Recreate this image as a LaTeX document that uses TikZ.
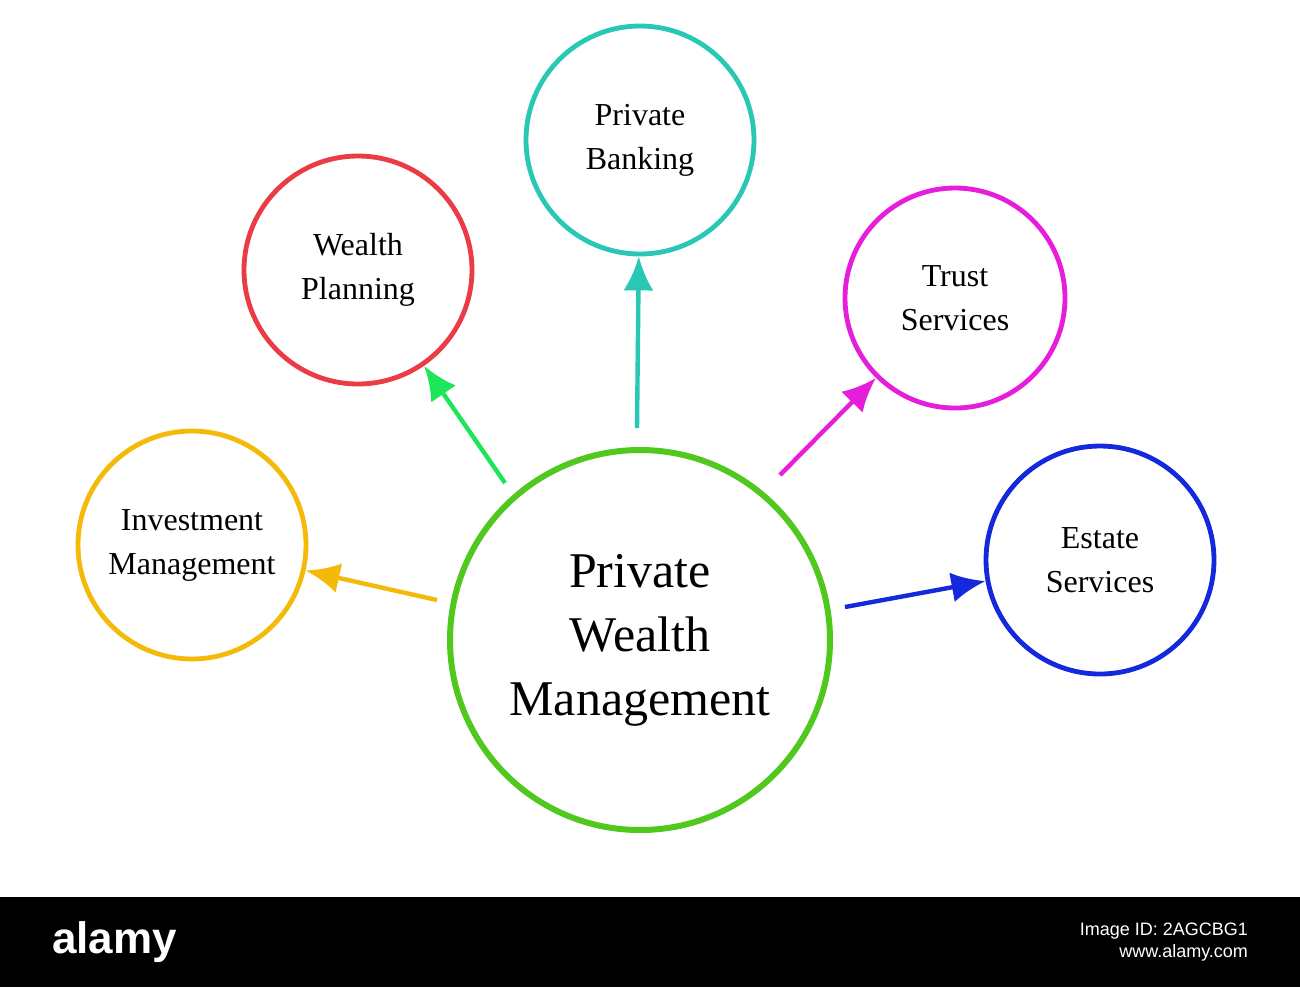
\documentclass[tikz,border=0pt]{standalone}
\usepackage{fontspec}
\setmainfont{Liberation Serif}
\newfontfamily\sansf{Liberation Sans}
\usetikzlibrary{arrows.meta}
\definecolor{cgreen}{RGB}{80,200,30}
\definecolor{cyel}{RGB}{245,185,10}
\definecolor{cred}{RGB}{235,60,70}
\definecolor{cteal}{RGB}{40,200,180}
\definecolor{cmag}{RGB}{230,30,220}
\definecolor{cblue}{RGB}{20,40,220}
\definecolor{carrg}{RGB}{30,230,90}
\tikzset{ring/.style={circle,line width=2.4pt,draw,align=center,font=\fontsize{16}{22}\selectfont},
arr/.style={line width=2.2pt,-{Latex[length=17pt,width=15pt]}}}
\begin{document}
\begin{tikzpicture}[x=0.5pt,y=-0.5pt]
\fill[white] (0,0) rectangle (1300,987);
\node[ring,draw=cgreen,line width=3pt,minimum size=190pt,font=\fontsize{25}{32}\selectfont] (c) at (640,640) {Private\\Wealth\\Management};
\node[ring,draw=cyel,minimum size=114pt] (im) at (192,545) {Investment\\Management};
\node[ring,draw=cred,minimum size=114pt] (wp) at (358,270) {Wealth\\Planning};
\node[ring,draw=cteal,minimum size=114pt] (pb) at (640,140) {Private\\Banking};
\node[ring,draw=cmag,minimum size=110pt] (ts) at (955,298) {Trust\\Services};
\node[ring,draw=cblue,minimum size=114pt] (es) at (1100,560) {Estate\\Services};
\coordinate (a1) at (437,600); \coordinate (a2) at (505,483); \coordinate (a3) at (637,428);
\coordinate (a4) at (780,475); \coordinate (a5) at (845,607);
\draw[arr,cyel] (a1) -- (im);
\draw[arr,carrg] (a2) -- (wp);
\draw[arr,cteal] (a3) -- (pb);
\draw[arr,cmag] (a4) -- (ts);
\draw[arr,cblue] (a5) -- (es);
\fill[black] (0,897) rectangle (1300,987);
\node[white,font=\sansf\bfseries\fontsize{22}{24}\selectfont,anchor=west] (lg) at (45,942) {alamy};
\node[white,font=\sansf\fontsize{9}{11}\selectfont,anchor=east,align=right] (id) at (1255,942) {Image ID: 2AGCBG1\\www.alamy.com};
\end{tikzpicture}
\end{document}
